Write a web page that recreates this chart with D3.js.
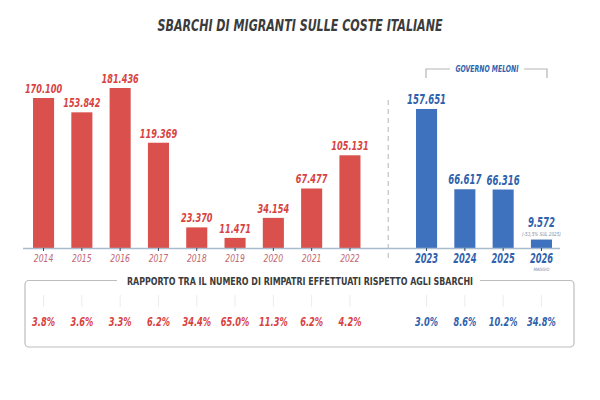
<!DOCTYPE html>
<html>
<head>
<meta charset="utf-8">
<script src="https://cdn.jsdelivr.net/npm/d3@7"></script>
<style>
  body { margin: 0; background: #fff; }
  text { font-family: "DejaVu Sans Condensed", "DejaVu Sans", sans-serif; }
</style>
</head>
<body>
<div id="container"></div>
<script>
// Data
const redYears = ["2014", "2015", "2016", "2017", "2018", "2019", "2020", "2021", "2022"];
const redValues = [170100, 153842, 181436, 119369, 23370, 11471, 34154, 67477, 105131];
const redRatios = ["3.8%", "3.6%", "3.3%", "6.2%", "34.4%", "65.0%", "11.3%", "6.2%", "4.2%"];
const blueYears = ["2023", "2024", "2025", "2026"];
const blueValues = [157651, 66617, 66316, 9572];
const blueRatios = ["3.0%", "8.6%", "10.2%", "34.8%"];
const valueFmt = d => d3.format(",")(d).replace(/,/g, ".");

const width = 600;
const height = 400;
const baseY = 248;
const red = "#d9504c";
const redText = "#d8423f";
const blue = "#3f72be";
const blueText = "#2f62ad";

const svg = d3.select("#container").append("svg")
    .attr("width", width)
    .attr("height", height);

const bars = [
    ...redYears.map((y, i) => ({year: y, value: redValues[i], ratio: redRatios[i], side: "red"})),
    ...blueYears.map((y, i) => ({year: y, value: blueValues[i], ratio: blueRatios[i], side: "blue"}))
];

// one empty slot between the two periods
const x = d3.scaleBand()
    .domain([...redYears, "gap", ...blueYears])
    .range([24.4, 560.6])
    .paddingInner(0.45)
    .paddingOuter(0.225);

const y = d3.scaleLinear()
    .domain([0, d3.max(redValues)])
    .range([baseY, 88]);

const cx = d => x(d) + x.bandwidth() / 2;

// narrow the glyphs horizontally to get a condensed look
const squeeze = (px, py, sx) => `translate(${px},${py}) scale(${sx},1)`;

// Title
svg.append("text")
    .attr("x", 300)
    .attr("y", 31)
    .attr("text-anchor", "middle")
    .attr("font-size", 15.5)
    .attr("font-weight", "bold")
    .attr("font-style", "italic")
    .attr("fill", "#3b3b3b")
    .attr("textLength", 285)
    .attr("lengthAdjust", "spacingAndGlyphs")
    .text("SBARCHI DI MIGRANTI SULLE COSTE ITALIANE");

// Divider
svg.append("line")
    .attr("x1", cx("gap")).attr("x2", cx("gap"))
    .attr("y1", 100).attr("y2", 262)
    .attr("stroke", "#c4c4c4")
    .attr("stroke-width", 1.2)
    .attr("stroke-dasharray", "5,4");

// Governo Meloni bracket
const bx0 = 426, bx1 = 547, by = 69;
svg.append("path")
    .attr("d", `M${bx0},${by + 9}V${by}H450M524,${by}H${bx1}V${by + 9}`)
    .attr("fill", "none")
    .attr("stroke", "#b5b5b5")
    .attr("stroke-width", 1.2);
svg.append("text")
    .attr("x", 487)
    .attr("y", by + 3)
    .attr("text-anchor", "middle")
    .attr("font-size", 8)
    .attr("font-weight", "bold")
    .attr("font-style", "italic")
    .attr("fill", blueText)
    .attr("textLength", 63)
    .attr("lengthAdjust", "spacingAndGlyphs")
    .text("GOVERNO MELONI");

// Bars
svg.append("g")
    .selectAll("rect")
    .data(bars)
    .join("rect")
    .attr("x", d => x(d.year))
    .attr("y", d => y(d.value))
    .attr("width", x.bandwidth())
    .attr("height", d => baseY - y(d.value))
    .attr("fill", d => d.side === "red" ? red : blue);

// Baseline axis
const axis = svg.append("g")
    .attr("transform", `translate(0,${baseY})`)
    .call(d3.axisBottom(x).tickSize(3).tickFormat(""));
axis.select(".domain")
    .attr("d", `M23,0.5H560`)
    .attr("stroke", "#a9bbcf")
    .attr("stroke-width", 1.5);
axis.selectAll(".tick line").attr("stroke", "#2f4560");
axis.selectAll(".tick").filter(d => d === "gap").remove();

// Value labels
svg.append("g")
    .selectAll("text")
    .data(bars)
    .join("text")
    .attr("transform", d => squeeze(cx(d.year), y(d.value) - (d.year === "2026" ? 12.5 : 5),
        d.side === "red" ? 0.7 : 0.68))
    .attr("text-anchor", "middle")
    .attr("font-size", d => d.side === "red" ? 13 : 14)
    .attr("font-weight", "bold")
    .attr("font-style", "italic")
    .attr("fill", d => d.side === "red" ? redText : blueText)
    .text(d => valueFmt(d.value));

svg.append("text")
    .attr("x", cx("2026"))
    .attr("y", y(9572) - 3.5)
    .attr("text-anchor", "middle")
    .attr("font-size", 5.5)
    .attr("font-style", "italic")
    .attr("fill", "#7d8aa0")
    .attr("textLength", 39)
    .attr("lengthAdjust", "spacingAndGlyphs")
    .text("(-53,5% SUL 2025)");

// Year labels
svg.append("g")
    .selectAll("text")
    .data(bars)
    .join("text")
    .attr("transform", d => squeeze(cx(d.year), d.side === "red" ? 262 : 263,
        d.side === "red" ? 0.78 : 0.66))
    .attr("text-anchor", "middle")
    .attr("font-size", d => d.side === "red" ? 11 : 14)
    .attr("font-weight", d => d.side === "red" ? "normal" : "bold")
    .attr("font-style", "italic")
    .attr("fill", d => d.side === "red" ? "#c46770" : blueText)
    .text(d => d.year);

svg.append("text")
    .attr("x", cx("2026"))
    .attr("y", 270.5)
    .attr("text-anchor", "middle")
    .attr("font-size", 4.5)
    .attr("font-style", "italic")
    .attr("fill", "#7d8aa0")
    .attr("textLength", 16)
    .attr("lengthAdjust", "spacingAndGlyphs")
    .text("MAGGIO");

// Ratio box
const boxTop = 280.5;
const boxTitle = "RAPPORTO TRA IL NUMERO DI RIMPATRI EFFETTUATI RISPETTO AGLI SBARCHI";
svg.append("path")
    .attr("d", `M117,${boxTop}H29a4,4 0 0 0 -4,4V343a4,4 0 0 0 4,4H570a4,4 0 0 0 4,-4V${boxTop + 4}a4,4 0 0 0 -4,-4H480`)
    .attr("fill", "none")
    .attr("stroke", "#bdbdbd")
    .attr("stroke-width", 1.2);
svg.append("text")
    .attr("x", 300)
    .attr("y", boxTop + 4.5)
    .attr("text-anchor", "middle")
    .attr("font-size", 11)
    .attr("font-weight", "bold")
    .attr("fill", "#3b3b3b")
    .attr("textLength", 346)
    .attr("lengthAdjust", "spacingAndGlyphs")
    .text(boxTitle);

svg.append("g")
    .selectAll("line")
    .data(bars)
    .join("line")
    .attr("x1", d => cx(d.year)).attr("x2", d => cx(d.year))
    .attr("y1", 295).attr("y2", 307)
    .attr("stroke", "#ececec")
    .attr("stroke-width", 1);

svg.append("g")
    .selectAll("text")
    .data(bars)
    .join("text")
    .attr("transform", d => squeeze(cx(d.year), 326, 0.8))
    .attr("text-anchor", "middle")
    .attr("font-size", 11.5)
    .attr("font-weight", "bold")
    .attr("font-style", "italic")
    .attr("fill", d => d.side === "red" ? redText : blueText)
    .text(d => d.ratio);
</script>
</body>
</html>
